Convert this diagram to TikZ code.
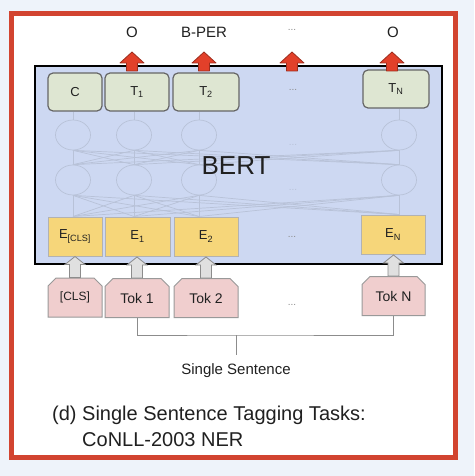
\documentclass[tikz,border=0pt]{standalone}
\usepackage{fontspec}
\setmainfont{Liberation Sans}
\usetikzlibrary{shapes.misc,shapes.geometric}
\definecolor{framered}{RGB}{210,68,48}
\definecolor{pagebg}{RGB}{238,243,250}
\definecolor{bertblue}{RGB}{205,216,242}
\definecolor{tgreen}{RGB}{222,230,210}
\definecolor{eyellow}{RGB}{246,214,122}
\definecolor{tokpink}{RGB}{240,206,206}
\definecolor{faintline}{RGB}{184,194,216}
\definecolor{arrred}{RGB}{226,64,42}
\definecolor{txt}{RGB}{32,32,32}

\begin{document}
\begin{tikzpicture}[x=1pt,y=-1pt,
				tbox/.style={draw=black!60,fill=tgreen,rounded corners=5pt,line width=1.2pt,minimum height=38pt,font=\fontsize{13}{15}\selectfont,text=txt},
				ebox/.style={draw=black!30,fill=eyellow,line width=1pt,minimum height=39pt,font=\fontsize{13}{15}\selectfont,text=txt},
				tokbox/.style={chamfered rectangle,chamfered rectangle corners={north west,north east},chamfered rectangle xsep=4pt,chamfered rectangle ysep=4pt,draw=black!40,fill=tokpink,line width=1pt,minimum height=39pt,font=\fontsize{14}{16}\selectfont,text=txt},
				cell/.style={ellipse,draw=faintline,line width=0.7pt,minimum width=35pt,minimum height=30pt},
				faint/.style={draw=faintline,line width=0.7pt},
				dots/.style={font=\fontsize{10}{12}\selectfont,text=black!45},
				lab/.style={font=\fontsize{15}{18}\selectfont,text=txt},
				redarr/.style={fill=arrred,draw=arrred!70!black,line width=0.8pt,line join=round},
				grayarr/.style={fill=black!12,draw=black!45,line width=0.8pt},
				inner sep=0pt]
				\useasboundingbox[fill=pagebg] (0,0) rectangle (474,476);
				\draw[framered,line width=5pt,fill=white] (11.5,13.5) rectangle (455.5,457.5);
				\draw[line width=2pt,fill=bertblue] (35,66) rectangle (442,264);
				\node [tbox,minimum width=54pt]		(T0)	at (75,92)		{C};
				\node [tbox,minimum width=64pt]		(T1)	at (137,92)		{T\textsubscript{1}};
				\node [tbox,minimum width=66pt]		(T2)	at (206,92)		{T\textsubscript{2}};
				\node [tbox,minimum width=66pt]		(TN)	at (396,89)		{T\textsubscript{N}};
					\node [dots] (Tdots) at (293,90) {...};
				\node [ebox,minimum width=54pt]		(E0)	at (75,236.5)	{E\textsubscript{[CLS]}};
				\node [ebox,minimum width=65pt]		(E1)	at (137.5,236.5)	{E\textsubscript{1}};
				\node [ebox,minimum width=64pt]		(E2)	at (206,236.5)	{E\textsubscript{2}};
				\node [ebox,minimum width=64pt]		(EN)	at (393,234.5)	{E\textsubscript{N}};
					\node [dots] (Edots) at (292,237) {...};
				\foreach \n/\x in {0/73,1/134,2/199,N/399} {
					\node [cell] (hi\n) at (\x,135) {};
					\node [cell] (lo\n) at (\x,180) {};
					\draw [faint] (hi\n.north) -- (hi\n.north |- T\n.south);
				}
				\foreach \a in {0,1,2,N}
					\foreach \b in {0,1,2,N} {
						\draw [faint] (hi\a.south) -- (lo\b.north);
						\draw [faint] (lo\a.south) -- (lo\b |- E\b.north);
					}
					\node [dots,text=faintline] (hidots) at (293,145) {...};
					\node [dots,text=faintline] (lodots) at (293,190) {...};
				\node [font=\fontsize{26}{30}\selectfont,text=txt] (bert) at (236,166) {BERT};
				\node [tokbox,minimum width=54pt,font=\fontsize{12}{14}\selectfont]	(Tok0)	at (75,297.5)	{[CLS]};
				\node [tokbox,minimum width=64pt]	(Tok1)	at (137,298)		{Tok 1};
				\node [tokbox,minimum width=64pt]	(Tok2)	at (206,298)		{Tok 2};
				\node [tokbox,minimum width=63pt]	(TokN)	at (393.5,296)	{Tok N};
					\node [dots] (Tokdots) at (292,305) {...};
				\foreach \n in {0,1,2,N}
					\filldraw [grayarr,shift={(Tok\n.north)}] (-5.5,0) -- (-5.5,-13) -- (-10,-13) -- (0,-21) -- (10,-13) -- (5.5,-13) -- (5.5,0) -- cycle;
				\node [lab]		(out0)	at (132,32)		{O};
				\node [lab]		(out1)	at (204,32)		{B-PER};
				\node [dots]	(outdots)	at (292,30)	{...};
				\node [lab]		(outN)	at (393,32)		{O};
				\foreach \x in {132,204,292,392}
					\filldraw [redarr,shift={(\x,71)}] (-5.5,0) -- (-5.5,-8) -- (-12,-8) -- (0,-19) -- (12,-8) -- (5.5,-8) -- (5.5,0) -- cycle;
				\node [font=\fontsize{15}{18}\selectfont,text=txt,inner ysep=9pt] (sent) at (236,371) {Single Sentence};
				\coordinate (brk) at (236,335);
				\draw [black!45,line width=1pt] (Tok1.south) |- (brk) -| (TokN.south);
				\draw [black!45,line width=1pt] (brk) -- (sent.north);
				\node [font=\fontsize{20}{24}\selectfont,text=txt,anchor=base west] (capA) at (52,420) {(d) Single Sentence Tagging Tasks:};
				\node [font=\fontsize{20}{24}\selectfont,text=txt,anchor=base west] (capB) at (82,446) {CoNLL-2003 NER};
\end{tikzpicture}
\end{document}
